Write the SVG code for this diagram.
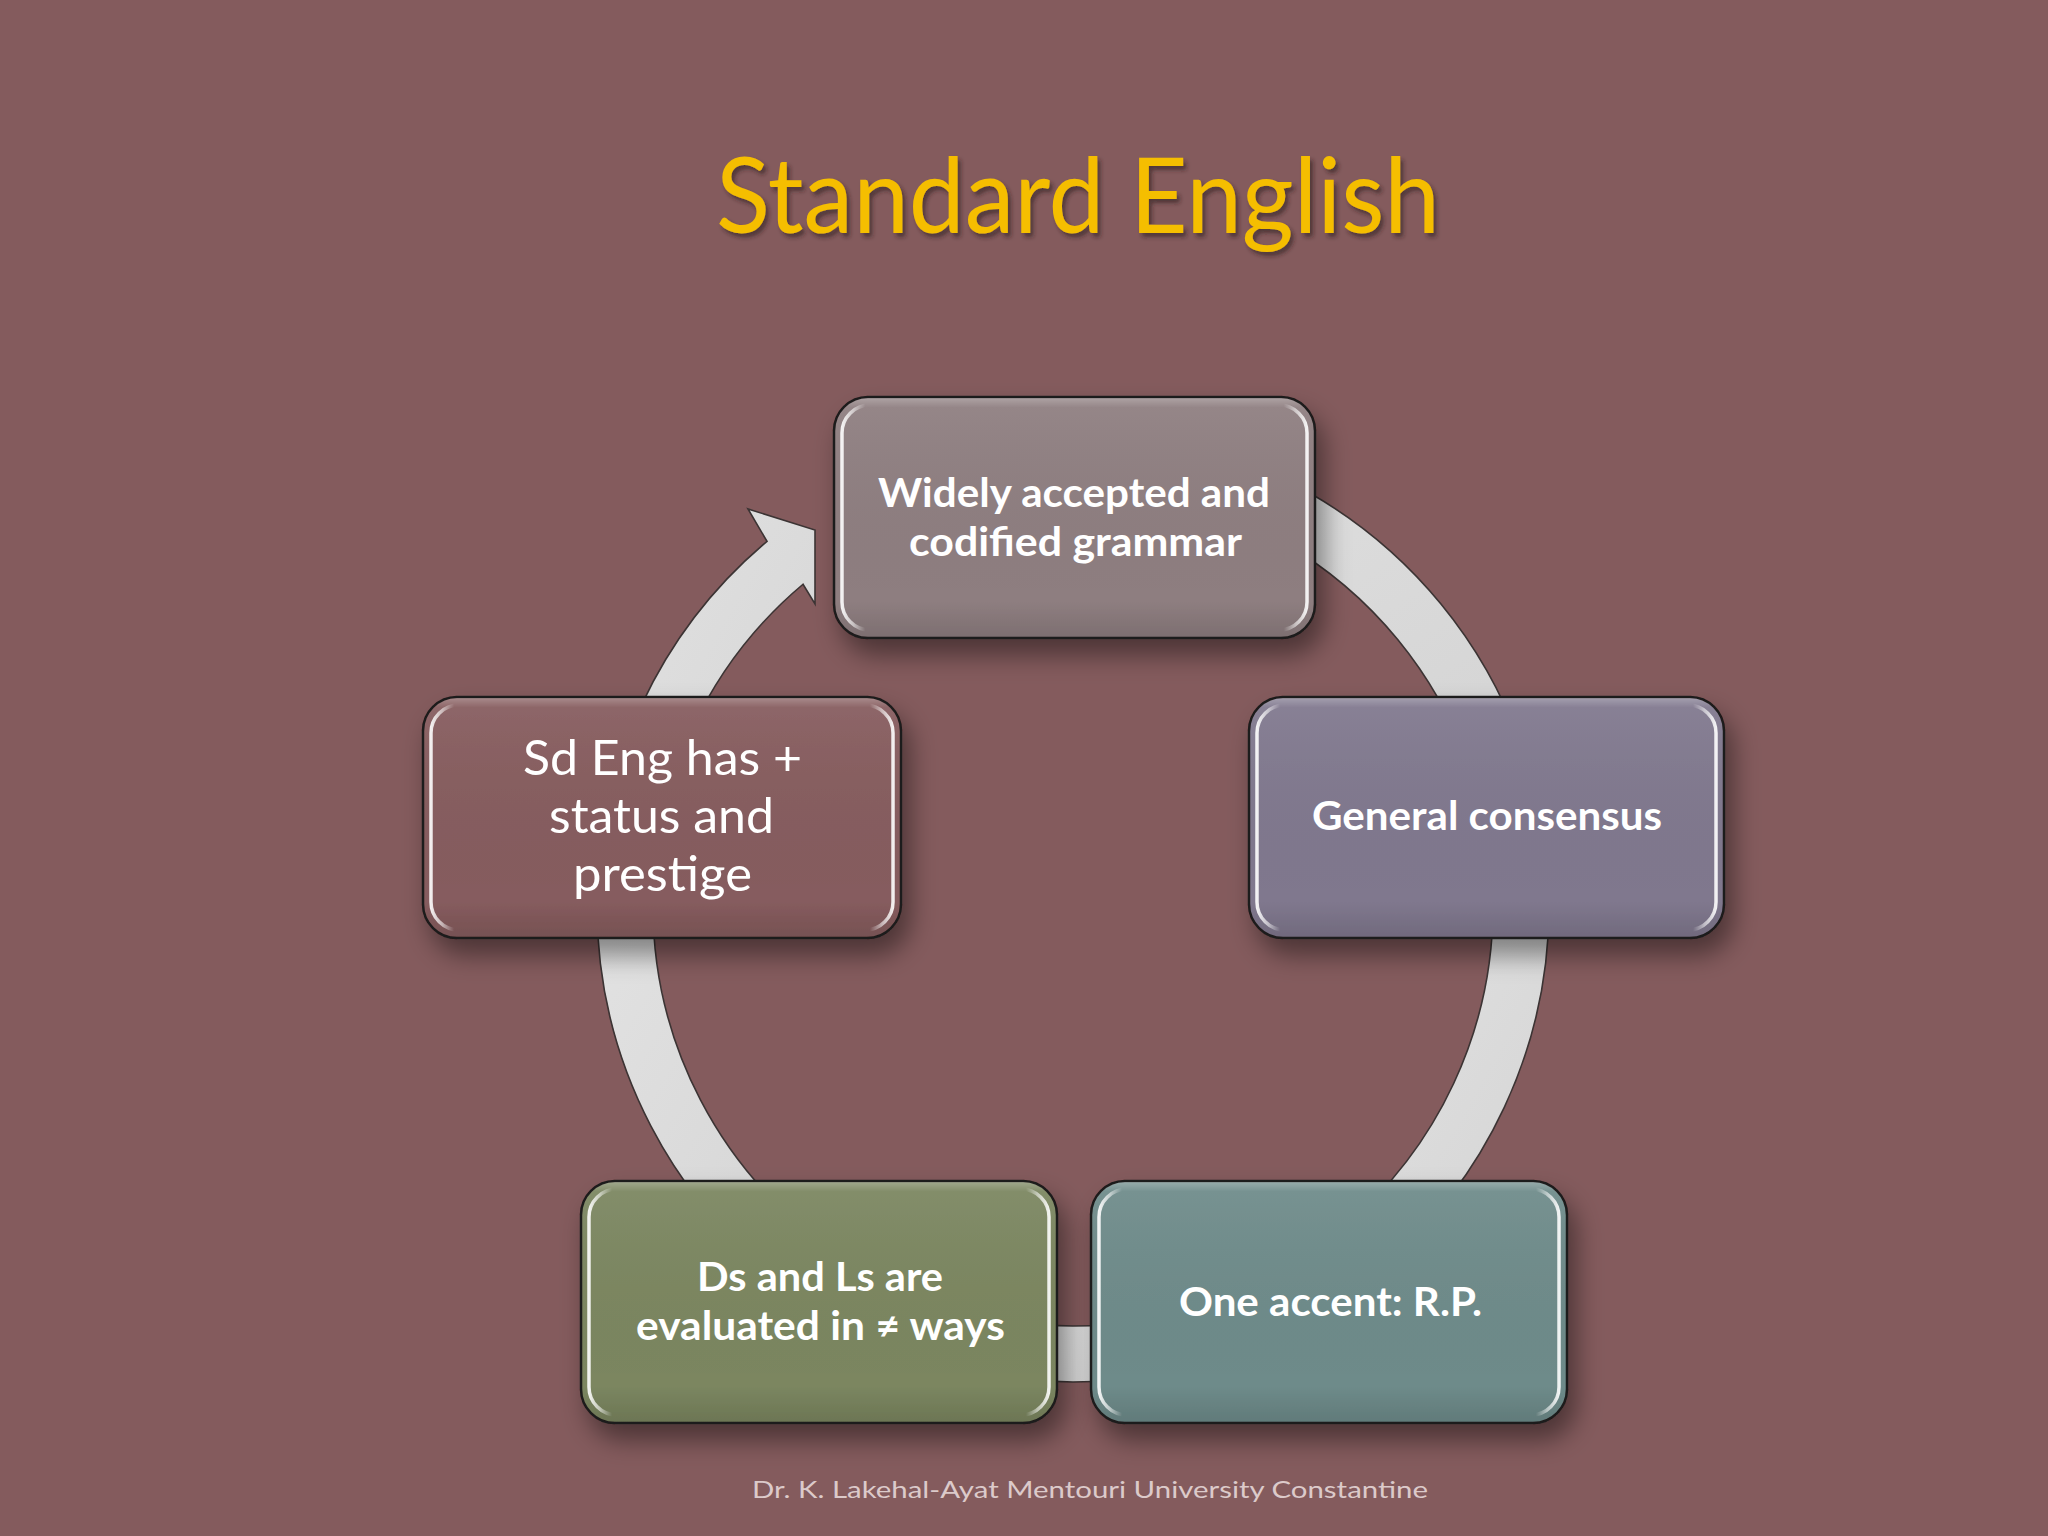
<svg xmlns="http://www.w3.org/2000/svg" width="2048" height="1536" viewBox="0 0 2048 1536">
<defs>
<style>
.bg{fill:#845B5D}
.title{font-family:Lato,'Open Sans','Liberation Sans',sans-serif;font-size:104px;fill:#F5BE00}
.lb{font-family:Lato,'Open Sans','Liberation Sans',sans-serif;font-weight:bold;font-size:40px;fill:#FFFFFF}
.lr{font-family:Lato,'Open Sans','Liberation Sans',sans-serif;font-size:48px;fill:#FFFFFF}
.foot{font-family:Lato,'Open Sans','Liberation Sans',sans-serif;font-size:24px;fill:#DCCACA}
.box{stroke:#1E1A1A;stroke-width:2.5}
.hi{fill:none;stroke:url(#edgeHi);stroke-width:3.5}
.gloss{fill:url(#gloss);stroke:none}
.ring{fill:url(#ringFill);stroke:#3C3434;stroke-width:1.6}
</style>
<linearGradient id="edgeHi" x1="0" y1="0" x2="1" y2="0">
<stop offset="0" stop-color="#fff" stop-opacity="0.9"/>
<stop offset="0.025" stop-color="#fff" stop-opacity="0.55"/>
<stop offset="0.05" stop-color="#fff" stop-opacity="0"/>
<stop offset="0.95" stop-color="#fff" stop-opacity="0"/>
<stop offset="0.975" stop-color="#fff" stop-opacity="0.55"/>
<stop offset="1" stop-color="#fff" stop-opacity="0.9"/>
</linearGradient>
<linearGradient id="gloss" x1="0" y1="0" x2="0" y2="1">
<stop offset="0" stop-color="#fff" stop-opacity="0.28"/>
<stop offset="0.04" stop-color="#fff" stop-opacity="0.06"/>
<stop offset="0.85" stop-color="#000" stop-opacity="0"/>
<stop offset="1" stop-color="#000" stop-opacity="0.12"/>
</linearGradient>
<linearGradient id="ringFill" x1="0" y1="0" x2="1" y2="1">
<stop offset="0" stop-color="#E2E2E2"/>
<stop offset="1" stop-color="#D4D4D4"/>
</linearGradient>
<filter id="shadow" x="-20%" y="-20%" width="150%" height="160%">
<feDropShadow dx="8" dy="16" stdDeviation="13" flood-color="#000" flood-opacity="0.42"/>
</filter>
<filter id="tshadow" x="-5%" y="-20%" width="110%" height="150%">
<feDropShadow dx="3" dy="4" stdDeviation="2" flood-color="#2A1A1A" flood-opacity="0.6"/>
</filter>
</defs>

<rect class="bg" x="0" y="0" width="2048" height="1536"/>

<text class="title" x="716" y="233" textLength="724" lengthAdjust="spacingAndGlyphs" filter="url(#tshadow)">Standard English</text>

<g id="connectors">
<path class="ring" d="M990.34 437.23 A476 476 0 0 1 1520.29 743.20 L1467.67 762.35 A420 420 0 0 0 1000.07 492.38 Z"/>
<path class="ring" d="M1549 906 A476 476 0 0 1 1378.97 1270.64 L1342.97 1227.74 A420 420 0 0 0 1493 906 Z"/>
<path class="ring" d="M1235.80 1353.29 A476 476 0 0 1 910.20 1353.29 L929.35 1300.67 A420 420 0 0 0 1216.65 1300.67 Z"/>
<path class="ring" d="M799.98 1295.92 A476 476 0 0 1 597 906 L653 906 A420 420 0 0 0 832.10 1250.04 Z"/>
<path class="ring" d="M597 906 A476 476 0 0 1 767.03 541.36 L748 509 L815 530 L815 604 L803.03 584.26 A420 420 0 0 0 653 906 Z"/>
</g>

<g id="node1" filter="url(#shadow)">
<rect class="box" x="834" y="397" width="481" height="241" rx="34" fill="#8E7E80"/>
<rect class="gloss" x="835" y="398" width="479" height="239" rx="33"/>
<rect class="hi" x="842" y="405" width="465" height="225" rx="28"/>
</g>
<g id="node1-label">
<text class="lb" x="878" y="507" textLength="392" lengthAdjust="spacingAndGlyphs">Widely accepted and</text>
<text class="lb" x="909" y="556" textLength="333" lengthAdjust="spacingAndGlyphs">codified grammar</text>
</g>

<g id="node2" filter="url(#shadow)">
<rect class="box" x="1249" y="697" width="475" height="241" rx="34" fill="#80788E"/>
<rect class="gloss" x="1250" y="698" width="473" height="239" rx="33"/>
<rect class="hi" x="1257" y="705" width="459" height="225" rx="28"/>
</g>
<g id="node2-label">
<text class="lb" x="1312" y="830" textLength="350" lengthAdjust="spacingAndGlyphs">General consensus</text>
</g>

<g id="node3" filter="url(#shadow)">
<rect class="box" x="1091" y="1181" width="476" height="242" rx="34" fill="#6E8B8A"/>
<rect class="gloss" x="1092" y="1182" width="474" height="240" rx="33"/>
<rect class="hi" x="1099" y="1189" width="460" height="226" rx="28"/>
</g>
<g id="node3-label">
<text class="lb" x="1179" y="1316" textLength="303" lengthAdjust="spacingAndGlyphs">One accent: R.P.</text>
</g>

<g id="node4" filter="url(#shadow)">
<rect class="box" x="581" y="1181" width="476" height="242" rx="34" fill="#7B8660"/>
<rect class="gloss" x="582" y="1182" width="474" height="240" rx="33"/>
<rect class="hi" x="589" y="1189" width="460" height="226" rx="28"/>
</g>
<g id="node4-label">
<text class="lb" x="697" y="1291" textLength="246" lengthAdjust="spacingAndGlyphs">Ds and Ls are</text>
<text class="lb" x="636" y="1340" textLength="369" lengthAdjust="spacingAndGlyphs">evaluated in ≠ ways</text>
</g>

<g id="node5" filter="url(#shadow)">
<rect class="box" x="423" y="697" width="478" height="241" rx="34" fill="#865C5E"/>
<rect class="gloss" x="424" y="698" width="476" height="239" rx="33"/>
<rect class="hi" x="431" y="705" width="462" height="225" rx="28"/>
</g>
<g id="node5-label">
<text class="lr" x="523" y="775" textLength="279" lengthAdjust="spacingAndGlyphs">Sd Eng has +</text>
<text class="lr" x="549" y="833" textLength="225" lengthAdjust="spacingAndGlyphs">status and</text>
<text class="lr" x="573" y="891" textLength="179" lengthAdjust="spacingAndGlyphs">prestige</text>
</g>

<text class="foot" x="752" y="1498" textLength="676" lengthAdjust="spacingAndGlyphs">Dr. K. Lakehal-Ayat Mentouri University Constantine</text>
</svg>
